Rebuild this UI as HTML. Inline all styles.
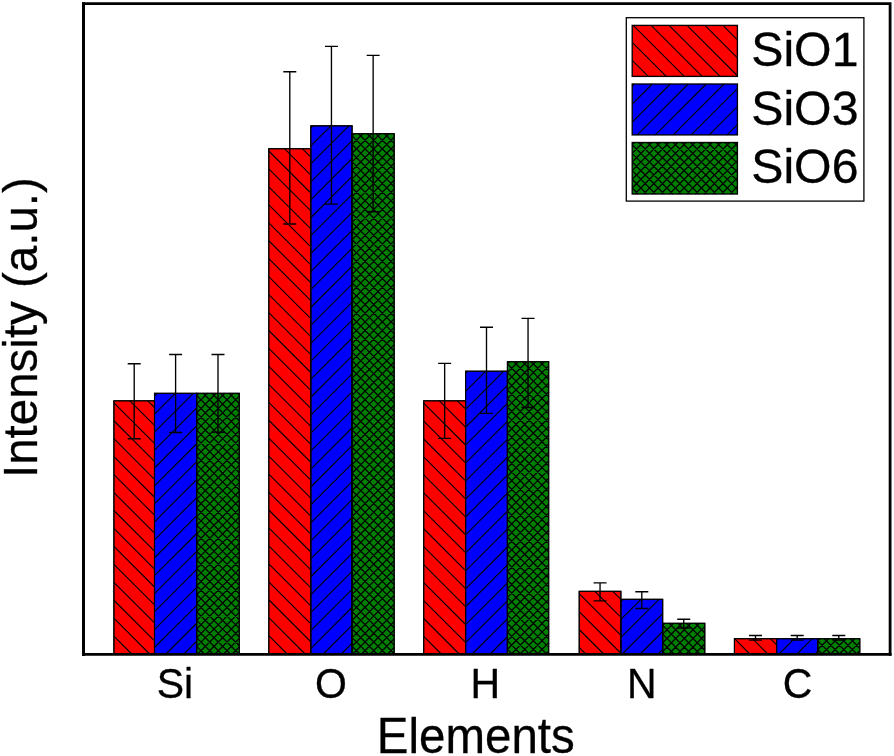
<!DOCTYPE html>
<html lang="en"><head><meta charset="utf-8"><title>Intensity by element</title>
<style>
html,body{margin:0;padding:0;background:#fff}
body{width:894px;height:756px;overflow:hidden}
svg{display:block}
text{font-family:"Liberation Sans",Arial,Helvetica,sans-serif;fill:#000;stroke:#000;stroke-width:.3px;stroke-linejoin:round}
</style></head><body>
<svg width="894" height="756" viewBox="0 0 894 756">
<rect width="894" height="756" fill="#fff"/>
<g stroke="#000" stroke-width="1.05">
<rect x="113.9" y="400.8" width="40.6" height="253.2" fill="#ff0000"/>
<rect x="154.5" y="393.3" width="42.2" height="260.7" fill="#0000ff"/>
<rect x="196.7" y="393.3" width="42.6" height="260.7" fill="#008000"/>
<rect x="268.8" y="148.7" width="42" height="505.3" fill="#ff0000"/>
<rect x="310.8" y="125.8" width="41.3" height="528.2" fill="#0000ff"/>
<rect x="352.1" y="133.7" width="42.1" height="520.3" fill="#008000"/>
<rect x="423.7" y="400.8" width="41.9" height="253.2" fill="#ff0000"/>
<rect x="465.6" y="371.2" width="41.8" height="282.8" fill="#0000ff"/>
<rect x="507.4" y="361.7" width="41.3" height="292.3" fill="#008000"/>
<rect x="579.2" y="591.3" width="41.7" height="62.7" fill="#ff0000"/>
<rect x="620.9" y="599.3" width="41.8" height="54.7" fill="#0000ff"/>
<rect x="662.7" y="623.3" width="42.1" height="30.7" fill="#008000"/>
<rect x="734.4" y="638.7" width="42.2" height="15.3" fill="#ff0000"/>
<rect x="776.6" y="638.7" width="41.2" height="15.3" fill="#0000ff"/>
<rect x="817.8" y="638.7" width="42" height="15.3" fill="#008000"/>
</g>
<path d="M147.8 400.8L154.5 407.5M129.85 400.8L154.5 425.45M113.9 402.8L154.5 443.4M113.9 420.75L154.5 461.35M113.9 438.7L154.5 479.3M113.9 456.65L154.5 497.25M113.9 474.6L154.5 515.2M113.9 492.55L154.5 533.15M113.9 510.5L154.5 551.1M113.9 528.45L154.5 569.05M113.9 546.4L154.5 587M113.9 564.35L154.5 604.95M113.9 582.3L154.5 622.9M113.9 600.25L154.5 640.85M113.9 618.2L149.7 654M113.9 636.15L131.75 654M154.5 396.2L157.4 393.3M154.5 414.15L175.35 393.3M154.5 432.1L193.3 393.3M154.5 450.05L196.7 407.85M154.5 468L196.7 425.8M154.5 485.95L196.7 443.75M154.5 503.9L196.7 461.7M154.5 521.85L196.7 479.65M154.5 539.8L196.7 497.6M154.5 557.75L196.7 515.55M154.5 575.7L196.7 533.5M154.5 593.65L196.7 551.45M154.5 611.6L196.7 569.4M154.5 629.55L196.7 587.35M154.5 647.5L196.7 605.3M165.95 654L196.7 623.25M183.9 654L196.7 641.2M302.4 148.7L310.8 157.1M284.45 148.7L310.8 175.05M268.8 151L310.8 193M268.8 168.95L310.8 210.95M268.8 186.9L310.8 228.9M268.8 204.85L310.8 246.85M268.8 222.8L310.8 264.8M268.8 240.75L310.8 282.75M268.8 258.7L310.8 300.7M268.8 276.65L310.8 318.65M268.8 294.6L310.8 336.6M268.8 312.55L310.8 354.55M268.8 330.5L310.8 372.5M268.8 348.45L310.8 390.45M268.8 366.4L310.8 408.4M268.8 384.35L310.8 426.35M268.8 402.3L310.8 444.3M268.8 420.25L310.8 462.25M268.8 438.2L310.8 480.2M268.8 456.15L310.8 498.15M268.8 474.1L310.8 516.1M268.8 492.05L310.8 534.05M268.8 510L310.8 552M268.8 527.95L310.8 569.95M268.8 545.9L310.8 587.9M268.8 563.85L310.8 605.85M268.8 581.8L310.8 623.8M268.8 599.75L310.8 641.75M268.8 617.7L305.1 654M268.8 635.65L287.15 654M268.8 653.6L269.2 654M310.8 128L313 125.8M310.8 145.95L330.95 125.8M310.8 163.9L348.9 125.8M310.8 181.85L352.1 140.55M310.8 199.8L352.1 158.5M310.8 217.75L352.1 176.45M310.8 235.7L352.1 194.4M310.8 253.65L352.1 212.35M310.8 271.6L352.1 230.3M310.8 289.55L352.1 248.25M310.8 307.5L352.1 266.2M310.8 325.45L352.1 284.15M310.8 343.4L352.1 302.1M310.8 361.35L352.1 320.05M310.8 379.3L352.1 338M310.8 397.25L352.1 355.95M310.8 415.2L352.1 373.9M310.8 433.15L352.1 391.85M310.8 451.1L352.1 409.8M310.8 469.05L352.1 427.75M310.8 487L352.1 445.7M310.8 504.95L352.1 463.65M310.8 522.9L352.1 481.6M310.8 540.85L352.1 499.55M310.8 558.8L352.1 517.5M310.8 576.75L352.1 535.45M310.8 594.7L352.1 553.4M310.8 612.65L352.1 571.35M310.8 630.6L352.1 589.3M310.8 648.55L352.1 607.25M323.3 654L352.1 625.2M341.25 654L352.1 643.15M457.3 400.8L465.6 409.1M439.35 400.8L465.6 427.05M423.7 403.1L465.6 445M423.7 421.05L465.6 462.95M423.7 439L465.6 480.9M423.7 456.95L465.6 498.85M423.7 474.9L465.6 516.8M423.7 492.85L465.6 534.75M423.7 510.8L465.6 552.7M423.7 528.75L465.6 570.65M423.7 546.7L465.6 588.6M423.7 564.65L465.6 606.55M423.7 582.6L465.6 624.5M423.7 600.55L465.6 642.45M423.7 618.5L459.2 654M423.7 636.45L441.25 654M465.6 373.4L467.8 371.2M465.6 391.35L485.75 371.2M465.6 409.3L503.7 371.2M465.6 427.25L507.4 385.45M465.6 445.2L507.4 403.4M465.6 463.15L507.4 421.35M465.6 481.1L507.4 439.3M465.6 499.05L507.4 457.25M465.6 517L507.4 475.2M465.6 534.95L507.4 493.15M465.6 552.9L507.4 511.1M465.6 570.85L507.4 529.05M465.6 588.8L507.4 547M465.6 606.75L507.4 564.95M465.6 624.7L507.4 582.9M465.6 642.65L507.4 600.85M472.2 654L507.4 618.8M490.15 654L507.4 636.75M612.8 591.3L620.9 599.4M594.85 591.3L620.9 617.35M579.2 593.6L620.9 635.3M579.2 611.55L620.9 653.25M579.2 629.5L603.7 654M579.2 647.45L585.75 654M620.9 601.5L623.1 599.3M620.9 619.45L641.05 599.3M620.9 637.4L659 599.3M622.25 654L662.7 613.55M640.2 654L662.7 631.5M658.15 654L662.7 649.45M770.4 638.7L776.6 644.9M752.45 638.7L767.75 654M734.5 638.7L749.8 654M779.05 654L794.35 638.7M797 654L812.3 638.7M814.95 654L817.8 651.15" stroke="#000" stroke-width="1.1" fill="none"/>
<path d="M237.75 393.3L239.3 394.85M229.1 393.3L239.3 403.5M220.45 393.3L239.3 412.15M211.8 393.3L239.3 420.8M203.15 393.3L239.3 429.45M196.7 395.5L239.3 438.1M196.7 404.15L239.3 446.75M196.7 412.8L239.3 455.4M196.7 421.45L239.3 464.05M196.7 430.1L239.3 472.7M196.7 438.75L239.3 481.35M196.7 447.4L239.3 490M196.7 456.05L239.3 498.65M196.7 464.7L239.3 507.3M196.7 473.35L239.3 515.95M196.7 482L239.3 524.6M196.7 490.65L239.3 533.25M196.7 499.3L239.3 541.9M196.7 507.95L239.3 550.55M196.7 516.6L239.3 559.2M196.7 525.25L239.3 567.85M196.7 533.9L239.3 576.5M196.7 542.55L239.3 585.15M196.7 551.2L239.3 593.8M196.7 559.85L239.3 602.45M196.7 568.5L239.3 611.1M196.7 577.15L239.3 619.75M196.7 585.8L239.3 628.4M196.7 594.45L239.3 637.05M196.7 603.1L239.3 645.7M196.7 611.75L238.95 654M196.7 620.4L230.3 654M196.7 629.05L221.65 654M196.7 637.7L213 654M196.7 646.35L204.35 654M196.7 395.5L198.9 393.3M196.7 404.15L207.55 393.3M196.7 412.8L216.2 393.3M196.7 421.45L224.85 393.3M196.7 430.1L233.5 393.3M196.7 438.75L239.3 396.15M196.7 447.4L239.3 404.8M196.7 456.05L239.3 413.45M196.7 464.7L239.3 422.1M196.7 473.35L239.3 430.75M196.7 482L239.3 439.4M196.7 490.65L239.3 448.05M196.7 499.3L239.3 456.7M196.7 507.95L239.3 465.35M196.7 516.6L239.3 474M196.7 525.25L239.3 482.65M196.7 533.9L239.3 491.3M196.7 542.55L239.3 499.95M196.7 551.2L239.3 508.6M196.7 559.85L239.3 517.25M196.7 568.5L239.3 525.9M196.7 577.15L239.3 534.55M196.7 585.8L239.3 543.2M196.7 594.45L239.3 551.85M196.7 603.1L239.3 560.5M196.7 611.75L239.3 569.15M196.7 620.4L239.3 577.8M196.7 629.05L239.3 586.45M196.7 637.7L239.3 595.1M196.7 646.35L239.3 603.75M197.7 654L239.3 612.4M206.35 654L239.3 621.05M215 654L239.3 629.7M223.65 654L239.3 638.35M232.3 654L239.3 647M393.15 133.7L394.2 134.75M384.5 133.7L394.2 143.4M375.85 133.7L394.2 152.05M367.2 133.7L394.2 160.7M358.55 133.7L394.2 169.35M352.1 135.9L394.2 178M352.1 144.55L394.2 186.65M352.1 153.2L394.2 195.3M352.1 161.85L394.2 203.95M352.1 170.5L394.2 212.6M352.1 179.15L394.2 221.25M352.1 187.8L394.2 229.9M352.1 196.45L394.2 238.55M352.1 205.1L394.2 247.2M352.1 213.75L394.2 255.85M352.1 222.4L394.2 264.5M352.1 231.05L394.2 273.15M352.1 239.7L394.2 281.8M352.1 248.35L394.2 290.45M352.1 257L394.2 299.1M352.1 265.65L394.2 307.75M352.1 274.3L394.2 316.4M352.1 282.95L394.2 325.05M352.1 291.6L394.2 333.7M352.1 300.25L394.2 342.35M352.1 308.9L394.2 351M352.1 317.55L394.2 359.65M352.1 326.2L394.2 368.3M352.1 334.85L394.2 376.95M352.1 343.5L394.2 385.6M352.1 352.15L394.2 394.25M352.1 360.8L394.2 402.9M352.1 369.45L394.2 411.55M352.1 378.1L394.2 420.2M352.1 386.75L394.2 428.85M352.1 395.4L394.2 437.5M352.1 404.05L394.2 446.15M352.1 412.7L394.2 454.8M352.1 421.35L394.2 463.45M352.1 430L394.2 472.1M352.1 438.65L394.2 480.75M352.1 447.3L394.2 489.4M352.1 455.95L394.2 498.05M352.1 464.6L394.2 506.7M352.1 473.25L394.2 515.35M352.1 481.9L394.2 524M352.1 490.55L394.2 532.65M352.1 499.2L394.2 541.3M352.1 507.85L394.2 549.95M352.1 516.5L394.2 558.6M352.1 525.15L394.2 567.25M352.1 533.8L394.2 575.9M352.1 542.45L394.2 584.55M352.1 551.1L394.2 593.2M352.1 559.75L394.2 601.85M352.1 568.4L394.2 610.5M352.1 577.05L394.2 619.15M352.1 585.7L394.2 627.8M352.1 594.35L394.2 636.45M352.1 603L394.2 645.1M352.1 611.65L394.2 653.75M352.1 620.3L385.8 654M352.1 628.95L377.15 654M352.1 637.6L368.5 654M352.1 646.25L359.85 654M352.1 135.9L354.3 133.7M352.1 144.55L362.95 133.7M352.1 153.2L371.6 133.7M352.1 161.85L380.25 133.7M352.1 170.5L388.9 133.7M352.1 179.15L394.2 137.05M352.1 187.8L394.2 145.7M352.1 196.45L394.2 154.35M352.1 205.1L394.2 163M352.1 213.75L394.2 171.65M352.1 222.4L394.2 180.3M352.1 231.05L394.2 188.95M352.1 239.7L394.2 197.6M352.1 248.35L394.2 206.25M352.1 257L394.2 214.9M352.1 265.65L394.2 223.55M352.1 274.3L394.2 232.2M352.1 282.95L394.2 240.85M352.1 291.6L394.2 249.5M352.1 300.25L394.2 258.15M352.1 308.9L394.2 266.8M352.1 317.55L394.2 275.45M352.1 326.2L394.2 284.1M352.1 334.85L394.2 292.75M352.1 343.5L394.2 301.4M352.1 352.15L394.2 310.05M352.1 360.8L394.2 318.7M352.1 369.45L394.2 327.35M352.1 378.1L394.2 336M352.1 386.75L394.2 344.65M352.1 395.4L394.2 353.3M352.1 404.05L394.2 361.95M352.1 412.7L394.2 370.6M352.1 421.35L394.2 379.25M352.1 430L394.2 387.9M352.1 438.65L394.2 396.55M352.1 447.3L394.2 405.2M352.1 455.95L394.2 413.85M352.1 464.6L394.2 422.5M352.1 473.25L394.2 431.15M352.1 481.9L394.2 439.8M352.1 490.55L394.2 448.45M352.1 499.2L394.2 457.1M352.1 507.85L394.2 465.75M352.1 516.5L394.2 474.4M352.1 525.15L394.2 483.05M352.1 533.8L394.2 491.7M352.1 542.45L394.2 500.35M352.1 551.1L394.2 509M352.1 559.75L394.2 517.65M352.1 568.4L394.2 526.3M352.1 577.05L394.2 534.95M352.1 585.7L394.2 543.6M352.1 594.35L394.2 552.25M352.1 603L394.2 560.9M352.1 611.65L394.2 569.55M352.1 620.3L394.2 578.2M352.1 628.95L394.2 586.85M352.1 637.6L394.2 595.5M352.1 646.25L394.2 604.15M353 654L394.2 612.8M361.65 654L394.2 621.45M370.3 654L394.2 630.1M378.95 654L394.2 638.75M387.6 654L394.2 647.4M539.8 361.7L548.7 370.6M531.15 361.7L548.7 379.25M522.5 361.7L548.7 387.9M513.85 361.7L548.7 396.55M507.4 363.9L548.7 405.2M507.4 372.55L548.7 413.85M507.4 381.2L548.7 422.5M507.4 389.85L548.7 431.15M507.4 398.5L548.7 439.8M507.4 407.15L548.7 448.45M507.4 415.8L548.7 457.1M507.4 424.45L548.7 465.75M507.4 433.1L548.7 474.4M507.4 441.75L548.7 483.05M507.4 450.4L548.7 491.7M507.4 459.05L548.7 500.35M507.4 467.7L548.7 509M507.4 476.35L548.7 517.65M507.4 485L548.7 526.3M507.4 493.65L548.7 534.95M507.4 502.3L548.7 543.6M507.4 510.95L548.7 552.25M507.4 519.6L548.7 560.9M507.4 528.25L548.7 569.55M507.4 536.9L548.7 578.2M507.4 545.55L548.7 586.85M507.4 554.2L548.7 595.5M507.4 562.85L548.7 604.15M507.4 571.5L548.7 612.8M507.4 580.15L548.7 621.45M507.4 588.8L548.7 630.1M507.4 597.45L548.7 638.75M507.4 606.1L548.7 647.4M507.4 614.75L546.65 654M507.4 623.4L538 654M507.4 632.05L529.35 654M507.4 640.7L520.7 654M507.4 649.35L512.05 654M507.4 363.9L509.6 361.7M507.4 372.55L518.25 361.7M507.4 381.2L526.9 361.7M507.4 389.85L535.55 361.7M507.4 398.5L544.2 361.7M507.4 407.15L548.7 365.85M507.4 415.8L548.7 374.5M507.4 424.45L548.7 383.15M507.4 433.1L548.7 391.8M507.4 441.75L548.7 400.45M507.4 450.4L548.7 409.1M507.4 459.05L548.7 417.75M507.4 467.7L548.7 426.4M507.4 476.35L548.7 435.05M507.4 485L548.7 443.7M507.4 493.65L548.7 452.35M507.4 502.3L548.7 461M507.4 510.95L548.7 469.65M507.4 519.6L548.7 478.3M507.4 528.25L548.7 486.95M507.4 536.9L548.7 495.6M507.4 545.55L548.7 504.25M507.4 554.2L548.7 512.9M507.4 562.85L548.7 521.55M507.4 571.5L548.7 530.2M507.4 580.15L548.7 538.85M507.4 588.8L548.7 547.5M507.4 597.45L548.7 556.15M507.4 606.1L548.7 564.8M507.4 614.75L548.7 573.45M507.4 623.4L548.7 582.1M507.4 632.05L548.7 590.75M507.4 640.7L548.7 599.4M507.4 649.35L548.7 608.05M511.4 654L548.7 616.7M520.05 654L548.7 625.35M528.7 654L548.7 634M537.35 654L548.7 642.65M546 654L548.7 651.3M703.75 623.3L704.8 624.35M695.1 623.3L704.8 633M686.45 623.3L704.8 641.65M677.8 623.3L704.8 650.3M669.15 623.3L699.85 654M662.7 625.5L691.2 654M662.7 634.15L682.55 654M662.7 642.8L673.9 654M662.7 651.45L665.25 654M662.7 625.5L664.9 623.3M662.7 634.15L673.55 623.3M662.7 642.8L682.2 623.3M662.7 651.45L690.85 623.3M668.8 654L699.5 623.3M677.45 654L704.8 626.65M686.1 654L704.8 635.3M694.75 654L704.8 643.95M703.4 654L704.8 652.6M858.85 638.7L859.8 639.65M850.2 638.7L859.8 648.3M841.55 638.7L856.85 654M832.9 638.7L848.2 654M824.25 638.7L839.55 654M817.8 640.9L830.9 654M817.8 649.55L822.25 654M817.8 640.9L820 638.7M817.8 649.55L828.65 638.7M822 654L837.3 638.7M830.65 654L845.95 638.7M839.3 654L854.6 638.7M847.95 654L859.8 642.15M856.6 654L859.8 650.8" stroke="#000" stroke-width="1.25" fill="none"/>
<g fill="none" stroke="#000" stroke-width="1.05">
<rect x="113.9" y="400.8" width="40.6" height="253.2"/>
<rect x="154.5" y="393.3" width="42.2" height="260.7"/>
<rect x="196.7" y="393.3" width="42.6" height="260.7"/>
<rect x="268.8" y="148.7" width="42" height="505.3"/>
<rect x="310.8" y="125.8" width="41.3" height="528.2"/>
<rect x="352.1" y="133.7" width="42.1" height="520.3"/>
<rect x="423.7" y="400.8" width="41.9" height="253.2"/>
<rect x="465.6" y="371.2" width="41.8" height="282.8"/>
<rect x="507.4" y="361.7" width="41.3" height="292.3"/>
<rect x="579.2" y="591.3" width="41.7" height="62.7"/>
<rect x="620.9" y="599.3" width="41.8" height="54.7"/>
<rect x="662.7" y="623.3" width="42.1" height="30.7"/>
<rect x="734.4" y="638.7" width="42.2" height="15.3"/>
<rect x="776.6" y="638.7" width="41.2" height="15.3"/>
<rect x="817.8" y="638.7" width="42" height="15.3"/>
</g>
<path d="M134.2 363.7V438.7M127.7 363.7H140.7M127.7 438.7H140.7M175.6 354.5V432.5M169.1 354.5H182.1M169.1 432.5H182.1M218 354.5V432.2M211.5 354.5H224.5M211.5 432.2H224.5M289.8 71.7V224M283.3 71.7H296.3M283.3 224H296.3M331.45 46.3V204.1M324.95 46.3H337.95M324.95 204.1H337.95M373.15 55.3V211.7M366.65 55.3H379.65M366.65 211.7H379.65M444.65 363.3V438.3M438.15 363.3H451.15M438.15 438.3H451.15M486.5 327.2V413.3M480 327.2H493M480 413.3H493M528.05 318.3V407.5M521.55 318.3H534.55M521.55 407.5H534.55M600.05 582.8V600.8M593.55 582.8H606.55M593.55 600.8H606.55M641.8 591.7V608.5M635.3 591.7H648.3M635.3 608.5H648.3M683.75 619.2V628M677.25 619.2H690.25M677.25 628H690.25M755.5 635.5V640.1M749 635.5H762M749 640.1H762M797.2 635.5V640.1M790.7 635.5H803.7M790.7 640.1H803.7M838.8 635.5V640.1M832.3 635.5H845.3M832.3 640.1H845.3" stroke="#000" stroke-width="1.35" fill="none"/>
<path d="M83.5 655.8V3.7H890.1V655.8" stroke="#000" stroke-width="2.8" fill="none" stroke-linejoin="miter"/>
<path d="M82 654.45H891.5" stroke="#000" stroke-width="2.8" fill="none"/>
<path d="M83.5 2.3V655.8" stroke="#000" stroke-width="3" fill="none"/>
<rect x="626.3" y="17.7" width="237.6" height="183.4" fill="#fff" stroke="#000" stroke-width="1.3"/>
<g stroke="#000" stroke-width="1.35">
<rect x="632.2" y="25.4" width="105.2" height="51" fill="#ff0000"/>
<rect x="632.2" y="84" width="105.2" height="50.9" fill="#0000ff"/>
<rect x="632.2" y="142.5" width="105.2" height="51.5" fill="#008000"/>
</g>
<path d="M722.95 25.4L737.4 39.85M705 25.4L737.4 57.8M687.05 25.4L737.4 75.75M669.1 25.4L720.1 76.4M651.15 25.4L702.15 76.4M633.2 25.4L684.2 76.4M632.2 42.35L666.25 76.4M632.2 60.3L648.3 76.4M632.2 86.2L634.4 84M632.2 104.15L652.35 84M632.2 122.1L670.3 84M637.35 134.9L688.25 84M655.3 134.9L706.2 84M673.25 134.9L724.15 84M691.2 134.9L737.4 88.7M709.15 134.9L737.4 106.65M727.1 134.9L737.4 124.6" stroke="#000" stroke-width="1.1" fill="none"/>
<path d="M733.8 142.5L737.4 146.1M725.15 142.5L737.4 154.75M716.5 142.5L737.4 163.4M707.85 142.5L737.4 172.05M699.2 142.5L737.4 180.7M690.55 142.5L737.4 189.35M681.9 142.5L733.4 194M673.25 142.5L724.75 194M664.6 142.5L716.1 194M655.95 142.5L707.45 194M647.3 142.5L698.8 194M638.65 142.5L690.15 194M632.2 144.7L681.5 194M632.2 153.35L672.85 194M632.2 162L664.2 194M632.2 170.65L655.55 194M632.2 179.3L646.9 194M632.2 187.95L638.25 194M632.2 144.7L634.4 142.5M632.2 153.35L643.05 142.5M632.2 162L651.7 142.5M632.2 170.65L660.35 142.5M632.2 179.3L669 142.5M632.2 187.95L677.65 142.5M634.8 194L686.3 142.5M643.45 194L694.95 142.5M652.1 194L703.6 142.5M660.75 194L712.25 142.5M669.4 194L720.9 142.5M678.05 194L729.55 142.5M686.7 194L737.4 143.3M695.35 194L737.4 151.95M704 194L737.4 160.6M712.65 194L737.4 169.25M721.3 194L737.4 177.9M729.95 194L737.4 186.55" stroke="#000" stroke-width="1.25" fill="none"/>
<g font-size="47.5px">
<text transform="translate(751.2 66.4) scale(1.016 1)">SiO1</text>
<text transform="translate(751.2 125.0) scale(1.016 1)">SiO3</text>
<text transform="translate(751.2 183.4) scale(1.016 1)">SiO6</text>
</g>
<g font-size="41px" text-anchor="middle">
<text transform="translate(175.0 698.2) scale(1 1.045)">Si</text>
<text transform="translate(331.0 698.2) scale(1 1.045)">O</text>
<text transform="translate(485.2 698.2) scale(1 1.045)">H</text>
<text transform="translate(641.7 698.2) scale(1 1.045)">N</text>
<text transform="translate(797.5 698.2) scale(1 1.045)">C</text>
</g>
<text transform="translate(376.8 753) scale(1 1.035)" font-size="47.5px">Elements</text>
<text transform="translate(36.6 478) rotate(-90) scale(1 1.03)" font-size="47.5px">Intensity (a.u.)</text>
</svg>
</body></html>
